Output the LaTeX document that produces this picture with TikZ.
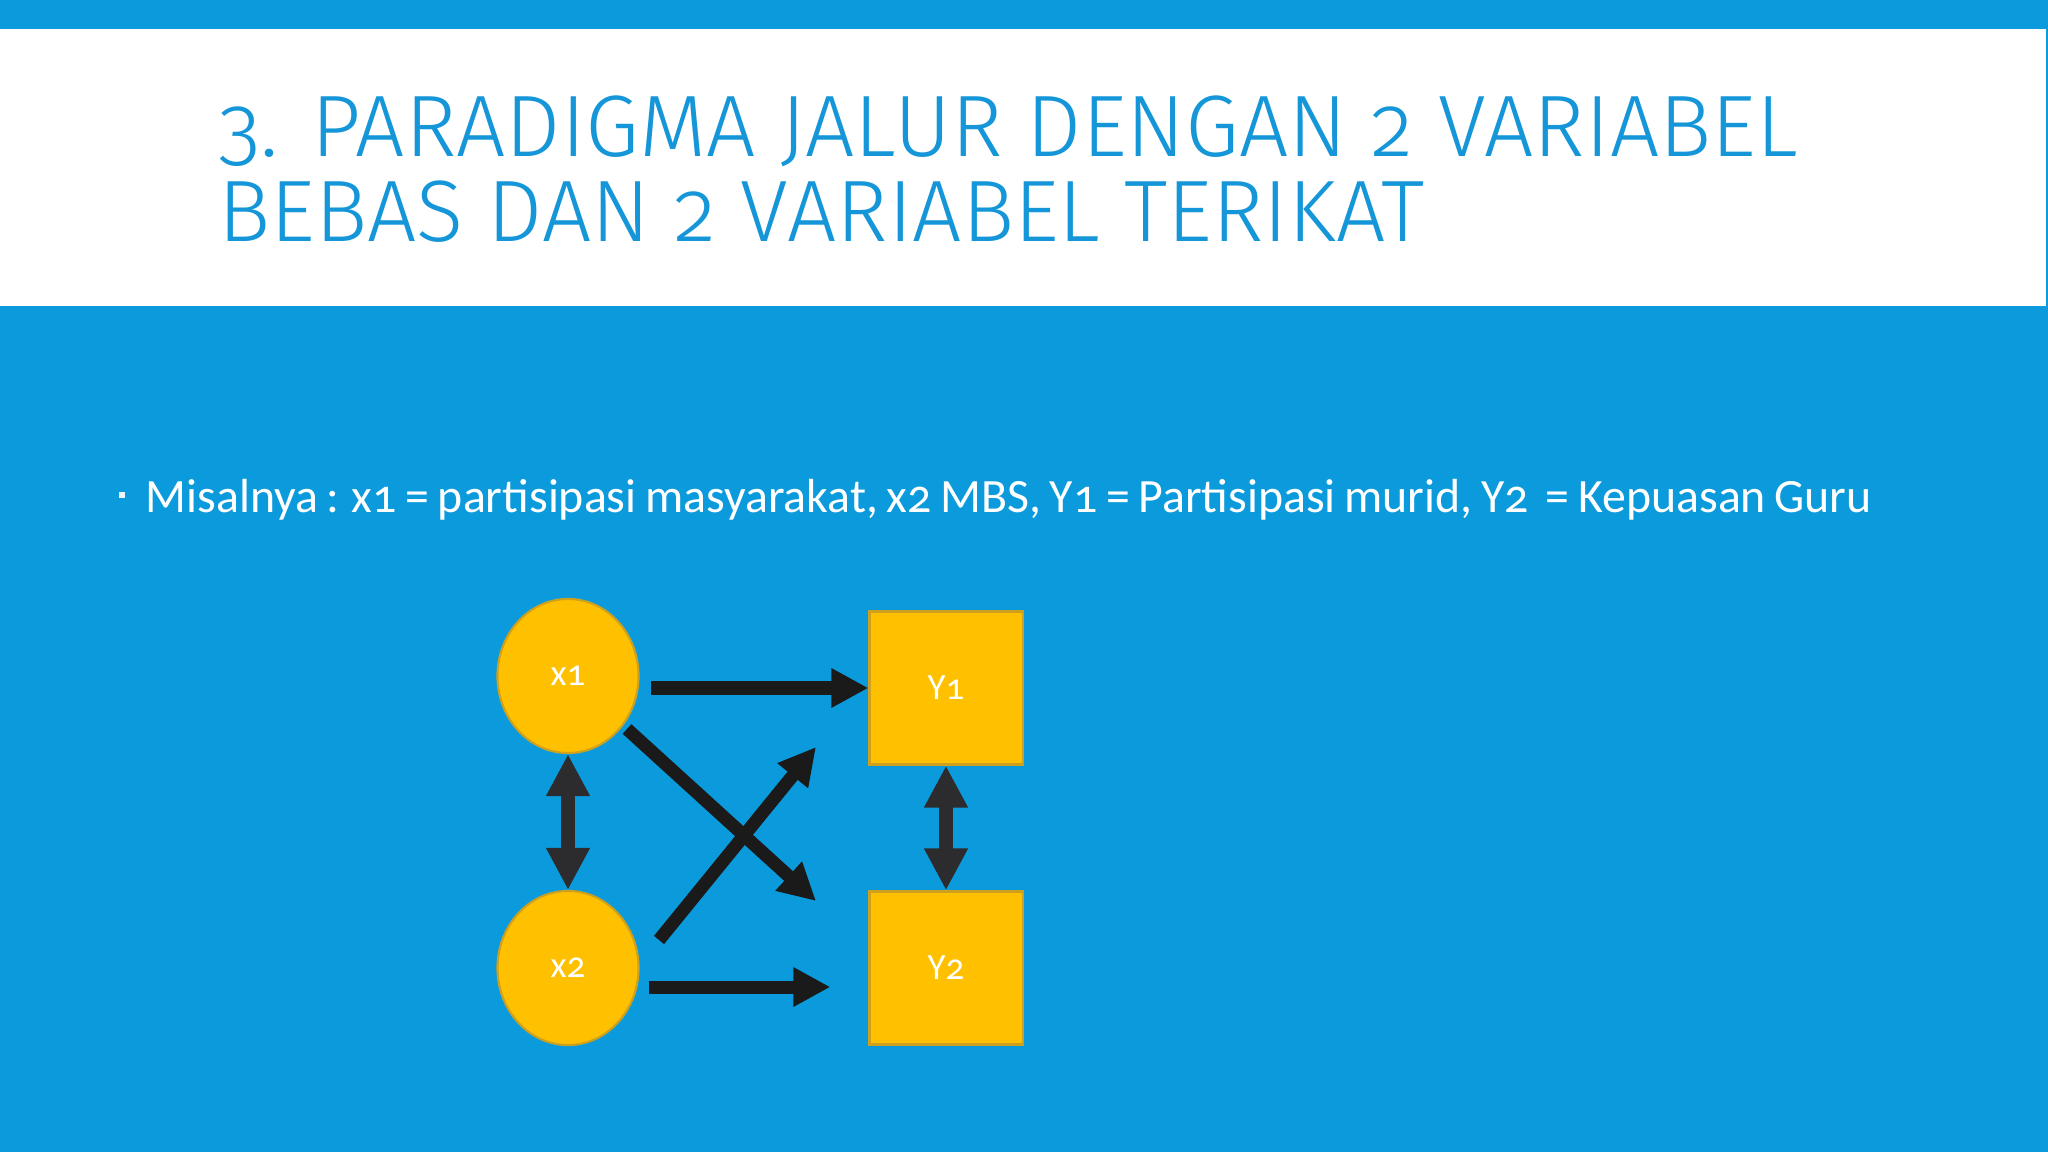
\documentclass[tikz,border=0pt]{standalone}
\usepackage{fontspec}
\setmainfont{Carlito}[Numbers=OldStyle]
\newfontfamily\bulletfont{Carlito}[Numbers=OldStyle,WordSpace=0.8]
\newfontfamily\titlefont{Fira Sans Light}[Numbers=OldStyle]
\usetikzlibrary{arrows.meta,shapes.geometric,calc}

\definecolor{slideblue}{RGB}{11,155,220}
\definecolor{titleblue}{RGB}{20,150,216}
\definecolor{gold}{RGB}{255,192,0}
\definecolor{goldline}{RGB}{205,160,30}
\definecolor{arrowblack}{RGB}{26,26,26}
\definecolor{arrowgrey}{RGB}{44,44,46}

\tikzset{
    varx/.style={ellipse, fill=gold, draw=goldline, line width=0.6pt,
        minimum width=1.41cm, minimum height=1.54cm, inner sep=0pt,
        text=white, font=\fontsize{10.5}{12}\selectfont},
    vary/.style={rectangle, fill=gold, draw=goldline, line width=0.6pt,
        minimum size=1.53cm, inner sep=0pt,
        text=white, font=\fontsize{10.5}{12}\selectfont},
    path/.style={draw=arrowblack, line width=3.7pt,
        -{Triangle[length=0.37cm,width=0.37cm]}},
    link/.style={draw=arrowgrey, line width=4pt,
        {Triangle[length=0.42cm,width=0.41cm]}-{Triangle[length=0.42cm,width=0.41cm]}}
}

\begin{document}
\begin{tikzpicture}[x=0.01cm,y=-0.01cm]

    % Background and title band
    \useasboundingbox (0,0) rectangle (2048,1152);
    \fill[slideblue] (0,0) rectangle (2048,1152);
    \fill[white] (0,29) rectangle (2046,306);

    % Title
    \node[anchor=base west, inner sep=0pt, text=titleblue,
        font=\titlefont\fontsize{24.8}{24}\selectfont] (title1) at (218,157)
        {3. PARADIGMA JALUR DENGAN 2 VARIABEL};
    \node[anchor=base west, inner sep=0pt, text=titleblue,
        font=\titlefont\fontsize{24.8}{24}\selectfont] (title2) at (218,242)
        {BEBAS DAN 2 VARIABEL TERIKAT};

    % Bullet line
    \fill[white!92!slideblue] (119,492) rectangle (125,498);
    \node[anchor=base west, inner sep=0pt, text=white,
        font=\bulletfont\fontsize{13.6}{16}\selectfont] (example) at (145,513)
        {Misalnya : x1 = partisipasi masyarakat, x2 MBS, Y1 = Partisipasi murid, Y2\ \ = Kepuasan Guru};

    % Variables
    \node[varx] (x1) at (568,676) {x1};
    \node[varx] (x2) at (568,968) {x2};
    \node[vary] (Y1) at (946,688) {Y1};
    \node[vary] (Y2) at (946,968) {Y2};

    % Free ends of the crossing paths
    \coordinate (x1out) at ($(x1.center)+(59,53)$);
    \coordinate (x1in) at (816,901);
    \coordinate (x2out) at ($(x2.center)+(91,-28)$);
    \coordinate (x2in) at (816,747);

    % Paths
    \draw[path, shorten <=0.11cm] (x1.east |- Y1.west) -- (Y1.west);
    \draw[path] (x1out) -- (x1in);
    \draw[path] (x2out) -- (x2in);
    \draw[path, shorten <=0.09cm, shorten >=0.38cm] ([yshift=-0.19cm]x2.east) -- ([yshift=-0.19cm]Y2.west);

    % Correlations
    \draw[link] (x1.south) -- (x2.north);
    \draw[link] (Y1.south) -- (Y2.north);

\end{tikzpicture}
\end{document}
